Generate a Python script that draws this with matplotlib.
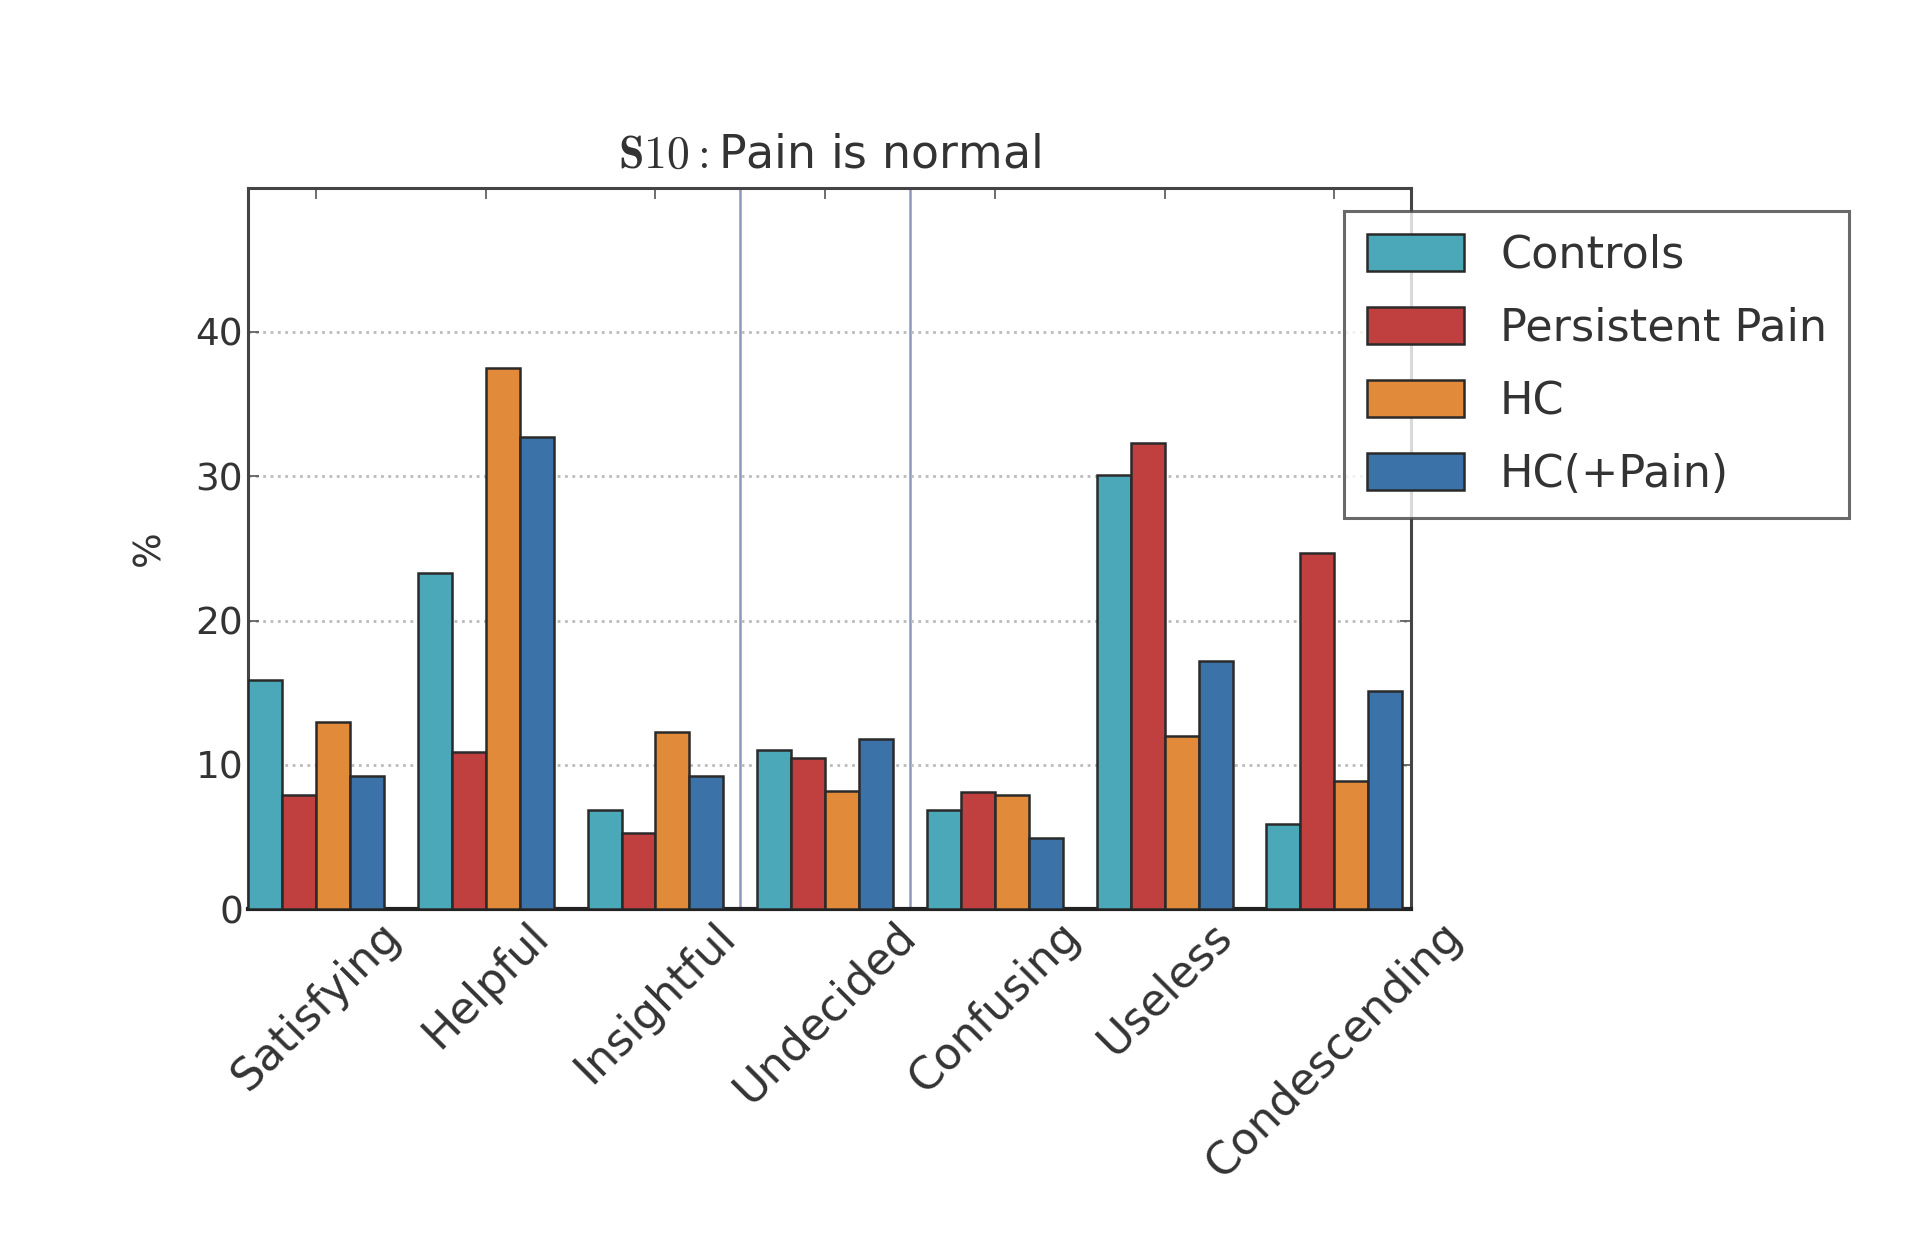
import numpy as np
import matplotlib
matplotlib.use("Agg")
import matplotlib.pyplot as plt

# ---------------------------
# data
# ---------------------------
categories = ['Satisfying', 'Helpful', 'Insightful', 'Undecided',
              'Confusing', 'Useless', 'Condescending']
controls = [15.9, 23.3, 6.9, 11.0, 6.9, 30.1, 5.9]
persistent_pain = [7.9, 10.9, 5.3, 10.5, 8.1, 32.3, 24.7]
hc = [13.0, 37.5, 12.3, 8.2, 7.9, 12.0, 8.9]
hc_pain = [9.2, 32.7, 9.2, 11.8, 4.9, 17.2, 15.1]

series_names = ['Controls', 'Persistent Pain', 'HC', 'HC(+Pain)']
series_values = [controls, persistent_pain, hc, hc_pain]
colors = ['#4aa8b8', '#c04040', '#e08a3a', '#3b72a8']

plt.rcParams['mathtext.fontset'] = 'cm'

fig = plt.figure(figsize=(19.09, 12.42), dpi=100)
ax = fig.add_axes([0.130, 0.268, 0.609, 0.581])

x = np.arange(len(categories))
width = 0.2
for k, (name, vals) in enumerate(zip(series_names, series_values)):
    ax.bar(x + k * width, vals, width, align='edge', color=colors[k],
           edgecolor='#2a2a2a', linewidth=1.8, label=name, zorder=3)

# separators around "Undecided"
ax.axvline(2.9, color='#8e98b8', linewidth=1.8, zorder=1)
ax.axvline(3.9, color='#8e98b8', linewidth=1.8, zorder=1)

ax.set_xlim(0, 6.85)
ax.set_ylim(0, 50)
ax.set_yticks([0, 10, 20, 30, 40])
ax.set_xticks(x + 2 * width)
ax.set_xticklabels(categories, rotation=45, fontsize=32, color='#333333')
ax.tick_params(axis='y', labelsize=27, labelcolor='#333333')
ax.tick_params(direction='in', top=True, right=True, length=8, width=1.2,
               color='#555555')
ax.yaxis.grid(True, linestyle=':', linewidth=2, color='#bbbbbb', zorder=0)

for side in ['left', 'right', 'top']:
    ax.spines[side].set_color('#444444')
    ax.spines[side].set_linewidth(2.2)
ax.spines['bottom'].set_color('#222222')
ax.spines['bottom'].set_linewidth(3)

ax.set_ylabel('%', fontsize=27, color='#333333', labelpad=20)
ax.set_title(r'$\mathbf{S10:}$Pain is normal', fontsize=33, color='#333333',
             pad=14)

leg = ax.legend(loc='upper left', bbox_to_anchor=(0.943, 0.967),
                fontsize=32, frameon=True, fancybox=False,
                handlelength=2.2, handleheight=0.9, borderpad=0.5,
                labelspacing=0.68, borderaxespad=0)
leg.get_frame().set_edgecolor('#444444')
leg.get_frame().set_linewidth(2.2)
for t in leg.get_texts():
    t.set_color('#333333')

plt.savefig('out.png', dpi=100)
